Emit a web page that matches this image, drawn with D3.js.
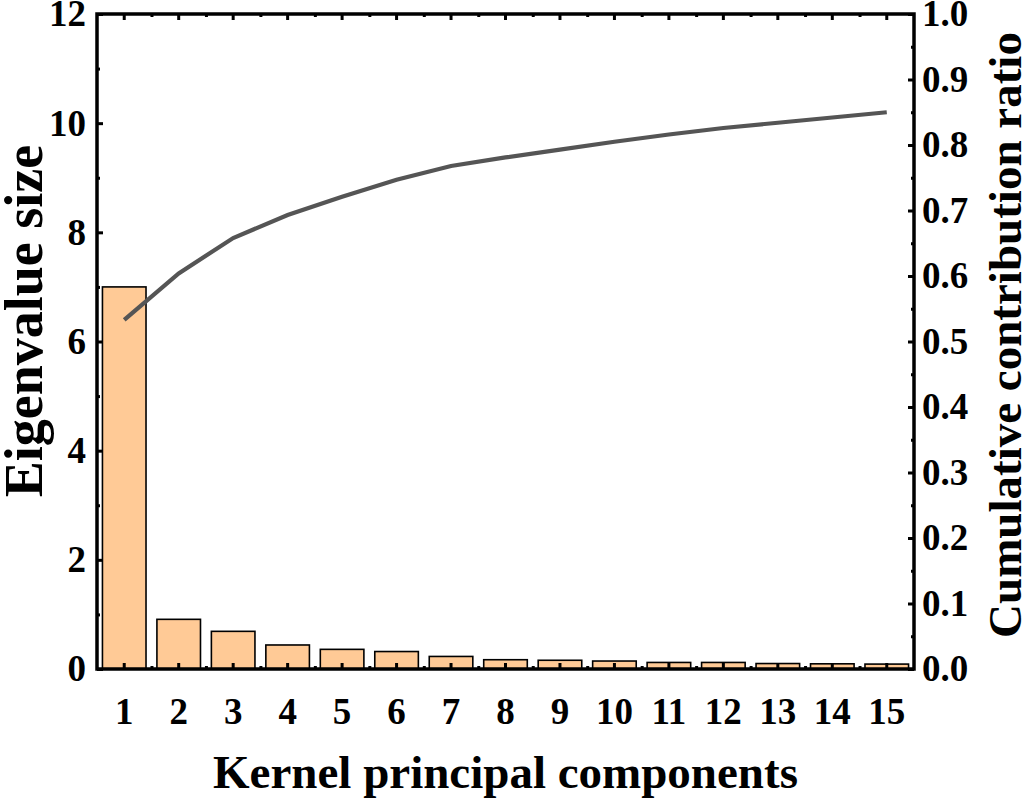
<!DOCTYPE html>
<html>
<head>
<meta charset="utf-8">
<script src="https://cdn.jsdelivr.net/npm/d3@7"></script>
<style>
  body { margin: 0; background: #fff; }
  svg text { font-family: "Liberation Serif", "DejaVu Serif", serif; font-weight: bold; fill: #000; }
</style>
</head>
<body>
<svg id="chart" width="1025" height="798"></svg>
<script>
// components on the x axis
var components = [1, 2, 3, 4, 5, 6, 7, 8, 9, 10, 11, 12, 13, 14, 15];
// eigenvalue of each kernel principal component (left axis)
var eigenvalues = [7.0, 0.91, 0.69, 0.44, 0.36, 0.32, 0.23, 0.17, 0.16, 0.146, 0.12, 0.12, 0.10, 0.095, 0.09];
// cumulative contribution ratio (right axis)
var cumulative = [0.533, 0.604, 0.658, 0.693, 0.721, 0.747, 0.768, 0.781, 0.793, 0.805, 0.816, 0.826, 0.834, 0.842, 0.850];
var leftTicks = [0, 2, 4, 6, 8, 10, 12];
var leftMinor = [1, 3, 5, 7, 9, 11];
var rightTicks = [0, 0.1, 0.2, 0.3, 0.4, 0.5, 0.6, 0.7, 0.8, 0.9, 1.0];
var rightMinor = [0.05, 0.15, 0.25, 0.35, 0.45, 0.55, 0.65, 0.75, 0.85, 0.95];

var plot = { left: 97, right: 914, top: 14, bottom: 669 };
var tickFont = 37;
var titleFont = 47;

var svg = d3.select('#chart');

var x = d3.scaleBand()
    .domain(components)
    .range([plot.left, plot.right])
    .paddingInner(0.2)
    .paddingOuter(0.1);

// boundaries between bars, for the small ticks
var xEdge = d3.scaleLinear()
    .domain([0.5, 15.5])
    .range([plot.left, plot.right]);
var xMinor = d3.range(1, 15).map(function(i) { return i + 0.5; });

var yL = d3.scaleLinear().domain([0, 12]).range([plot.bottom, plot.top]);
var yR = d3.scaleLinear().domain([0, 1]).range([plot.bottom, plot.top]);

// bars
svg.append('g')
    .selectAll('rect')
    .data(eigenvalues)
    .enter()
    .append('rect')
    .attr('x', function(d, i) { return x(components[i]); })
    .attr('y', function(d) { return yL(d); })
    .attr('width', x.bandwidth())
    .attr('height', function(d) { return plot.bottom - yL(d); })
    .style('fill', '#ffca96')
    .style('stroke', '#000')
    .style('stroke-width', 1.6);

// cumulative line
var line = d3.line()
    .x(function(d, i) { return x(components[i]) + x.bandwidth() / 2; })
    .y(function(d) { return yR(d); });

svg.append('path')
    .datum(cumulative)
    .attr('d', line)
    .style('fill', 'none')
    .style('stroke', '#555555')
    .style('stroke-width', 4.2);

function styleAxis(g, size) {
    g.select('.domain').remove();
    g.attr('font-family', null).attr('font-size', null);
    g.selectAll('line').style('stroke', '#000').style('stroke-width', 3);
    g.selectAll('text').style('font-size', size + 'px');
}

// left axis
svg.append('g')
    .attr('transform', 'translate(' + plot.left + ',0)')
    .call(d3.axisLeft(yL).tickValues(leftTicks).tickSize(-6).tickPadding(11))
    .call(styleAxis, tickFont);
svg.append('g')
    .attr('transform', 'translate(' + plot.left + ',0)')
    .call(d3.axisLeft(yL).tickValues(leftMinor).tickSize(-3).tickFormat(''))
    .call(styleAxis, tickFont);

// right axis
svg.append('g')
    .attr('transform', 'translate(' + plot.right + ',0)')
    .call(d3.axisRight(yR).tickValues(rightTicks).tickSize(-6).tickPadding(8).tickFormat(d3.format('.1f')))
    .call(styleAxis, tickFont);
svg.append('g')
    .attr('transform', 'translate(' + plot.right + ',0)')
    .call(d3.axisRight(yR).tickValues(rightMinor).tickSize(-3).tickFormat(''))
    .call(styleAxis, tickFont);

// bottom axis
svg.append('g')
    .attr('transform', 'translate(0,' + plot.bottom + ')')
    .call(d3.axisBottom(x).tickSize(-6).tickPadding(29))
    .call(styleAxis, tickFont);
svg.append('g')
    .attr('transform', 'translate(0,' + plot.bottom + ')')
    .call(d3.axisBottom(xEdge).tickValues(xMinor).tickSize(-3).tickFormat(''))
    .call(styleAxis, tickFont);

// top axis
svg.append('g')
    .attr('transform', 'translate(0,' + plot.top + ')')
    .call(d3.axisTop(x).tickSize(-6).tickFormat(''))
    .call(styleAxis, tickFont);
svg.append('g')
    .attr('transform', 'translate(0,' + plot.top + ')')
    .call(d3.axisTop(xEdge).tickValues(xMinor).tickSize(-3).tickFormat(''))
    .call(styleAxis, tickFont);

// frame
svg.append('rect')
    .attr('x', plot.left)
    .attr('y', plot.top)
    .attr('width', plot.right - plot.left)
    .attr('height', plot.bottom - plot.top)
    .style('fill', 'none')
    .style('stroke', '#000')
    .style('stroke-width', 3.5);

// axis titles
svg.append('text')
    .attr('x', (plot.left + plot.right) / 2)
    .attr('y', 788)
    .attr('text-anchor', 'middle')
    .style('font-size', titleFont + 'px')
    .text('Kernel principal components');

svg.append('text')
    .attr('transform', 'translate(42,' + 321 + ') rotate(-90)')
    .attr('text-anchor', 'middle')
    .style('font-size', '54px')
    .text('Eigenvalue size');

svg.append('text')
    .attr('transform', 'translate(1021,' + 335 + ') rotate(-90)')
    .attr('text-anchor', 'middle')
    .style('font-size', titleFont + 'px')
    .text('Cumulative contribution ratio');
</script>
</body>
</html>
